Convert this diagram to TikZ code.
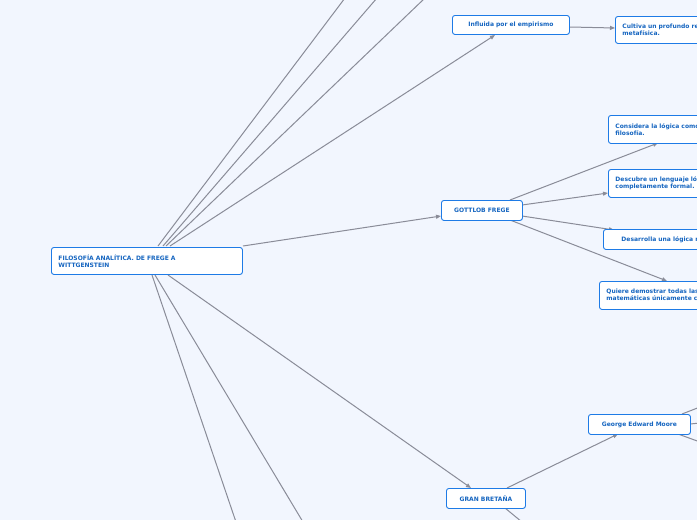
\documentclass[tikz,border=0pt]{standalone}
\usepackage{fontspec}
\setmainfont{DejaVu Sans}
\usetikzlibrary{arrows.meta}
\definecolor{bg}{HTML}{F2F6FE}
\definecolor{bd}{HTML}{1E7BE6}
\definecolor{tx}{HTML}{1565C0}
\definecolor{ln}{HTML}{8A8C98}
\tikzset{
 box/.style={draw=bd,line width=0.9pt,fill=white,rounded corners=2.5pt,anchor=north west,inner xsep=7pt,inner ysep=0pt,align=left,font=\fontsize{6}{7.2}\selectfont\bfseries,text=tx},
 con/.style={draw=ln,line width=1pt,-{Triangle[length=5pt,width=4pt]}},
 conp/.style={draw=ln,line width=1pt}
}
\begin{document}
\begin{tikzpicture}[x=1pt,y=-1pt]
\useasboundingbox (0,0) rectangle (697,520);
\clip (0,0) rectangle (697,520);
\fill[bg] (0,0) rectangle (697,520);
\coordinate (t1) at (345,-2); \coordinate (t2) at (377,-2); \coordinate (t3) at (425,-2);
\coordinate (b1) at (236,522); \coordinate (b2) at (303,522);
\coordinate (g1) at (522,522);
\coordinate (m1) at (700,407); \coordinate (m2) at (700,423); \coordinate (m3) at (700,442);
\coordinate (ms1) at (682,414); \coordinate (ms2) at (690,424); \coordinate (ms3) at (678,434);
% edges first (behind)
\draw[conp] (158,246) -- (t1);
\draw[conp] (163,246) -- (t2);
\draw[conp] (166,246) -- (t3);
\draw[conp] (152,275) -- (b1);
\draw[conp] (155,275) -- (b2);
\draw[con] (170,246) -- (495,35);
\draw[con] (243,246) -- (441,216);
\draw[con] (168,275) -- (471,488);
\draw[con] (570,27) -- (615,28);
\draw[con] (510,200) -- (658,143);
\draw[con] (522,205) -- (608,193);
\draw[con] (522,216) -- (614,230);
\draw[con] (510,220) -- (667,281);
\draw[con] (507,488) -- (618,434);
\draw[conp] (505,508) -- (g1);
\draw[conp] (ms1) -- (m1);
\draw[conp] (ms2) -- (m2);
\draw[conp] (ms3) -- (m3);
% nodes
\node[box,minimum width=191pt,minimum height=27pt,text width=177pt] (main) at (51,247) {FILOSOFÍA ANALÍTICA. DE FREGE A\\WITTGENSTEIN};
\node[box,minimum width=117pt,minimum height=19pt] (inf) at (452,15) {Influida por el empirismo};
\node[box,minimum width=150pt,minimum height=27pt,text width=136pt] (cul) at (615,16) {Cultiva un profundo rechazo a la\\metafísica.};
\node[box,minimum width=81pt,minimum height=20pt] (fre) at (441,200) {GOTTLOB FREGE};
\node[box,minimum width=150pt,minimum height=28pt,text width=136pt] (con) at (608,115) {Considera la lógica como base de la\\filosofía.};
\node[box,minimum width=150pt,minimum height=28pt,text width=136pt] (des) at (608,169) {Descubre un lenguaje lógico\\completamente formal.};
\node[box,minimum width=150pt,minimum height=20pt] (dsr) at (603,229) {Desarrolla una lógica matemática};
\node[box,minimum width=150pt,minimum height=28pt,text width=136pt] (qui) at (599,281) {Quiere demostrar todas las verdades\\matemáticas únicamente con la lógica};
\node[box,minimum width=102pt,minimum height=20pt] (moo) at (588,414) {George Edward Moore};
\node[box,minimum width=79pt,minimum height=20pt] (gb) at (446,488) {GRAN BRETAÑA};
\end{tikzpicture}
\end{document}
